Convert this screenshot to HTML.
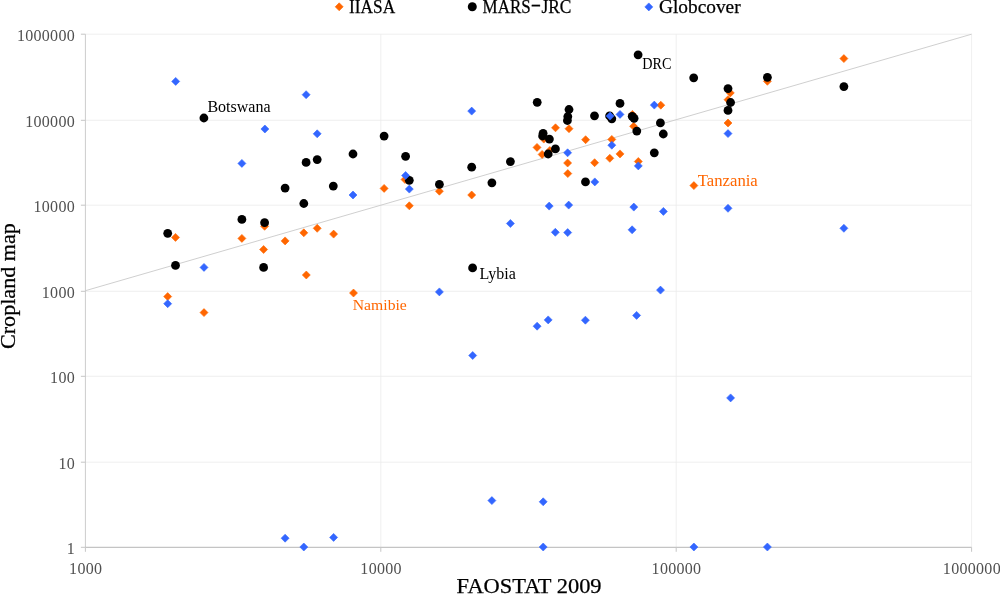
<!DOCTYPE html>
<html lang="en"><head><meta charset="utf-8"><title>Cropland map vs FAOSTAT 2009</title>
<style>html,body{margin:0;padding:0;background:#fff}body{width:1000px;height:594px;overflow:hidden}svg{display:block}
text{font-family:"Liberation Serif","Noto Serif CJK SC",serif}
.tick{font-size:16px;fill:#505050;letter-spacing:0.3px}.lab{font-size:16px}.leg{font-size:19.5px;fill:#000;stroke:#000;stroke-width:0.25px}.ttl{font-size:20.5px;fill:#000;stroke:#000;stroke-width:0.25px}
</style></head><body>
<svg width="1000" height="594" viewBox="0 0 1000 594">
<rect width="1000" height="594" fill="#fff"/>
<g stroke="#ebebeb" stroke-width="0.8" fill="none">
<line x1="85.4" y1="34.2" x2="971.6" y2="34.2"/>
<line x1="85.4" y1="120.3" x2="971.6" y2="120.3"/>
<line x1="85.4" y1="205.2" x2="971.6" y2="205.2"/>
<line x1="85.4" y1="291.3" x2="971.6" y2="291.3"/>
<line x1="85.4" y1="376.3" x2="971.6" y2="376.3"/>
<line x1="85.4" y1="462.2" x2="971.6" y2="462.2"/>
<line x1="380.8" y1="34.2" x2="380.8" y2="547.3"/>
<line x1="676.2" y1="34.2" x2="676.2" y2="547.3"/>
<line x1="971.6" y1="34.2" x2="971.6" y2="547.3"/>
</g>
<line x1="85.4" y1="34.2" x2="85.4" y2="547.3" stroke="#cccccc" stroke-width="1"/>
<line x1="85.4" y1="547.3" x2="971.6" y2="547.3" stroke="#b6b6b6" stroke-width="1"/>
<g stroke="#c6c6c6" stroke-width="1">
<line x1="80.9" y1="34.2" x2="85.4" y2="34.2"/>
<line x1="80.9" y1="120.3" x2="85.4" y2="120.3"/>
<line x1="80.9" y1="205.2" x2="85.4" y2="205.2"/>
<line x1="80.9" y1="291.3" x2="85.4" y2="291.3"/>
<line x1="80.9" y1="376.3" x2="85.4" y2="376.3"/>
<line x1="80.9" y1="462.2" x2="85.4" y2="462.2"/>
<line x1="80.9" y1="547.3" x2="85.4" y2="547.3"/>
<line x1="85.4" y1="547.3" x2="85.4" y2="551.8"/>
<line x1="380.8" y1="547.3" x2="380.8" y2="551.8"/>
<line x1="676.2" y1="547.3" x2="676.2" y2="551.8"/>
<line x1="971.6" y1="547.3" x2="971.6" y2="551.8"/>
</g>
<line x1="85.4" y1="290.7" x2="971.6" y2="34.2" stroke="#c9c9c9" stroke-width="0.9"/>
<g class="tick" text-anchor="end">
<text x="75.0" y="40.8">1000000</text>
<text x="75.0" y="126.9">100000</text>
<text x="75.0" y="211.8">10000</text>
<text x="75.0" y="297.9">1000</text>
<text x="75.0" y="382.9">100</text>
<text x="75.0" y="468.8">10</text>
<text x="75.0" y="553.9">1</text>
</g>
<g class="tick" text-anchor="middle">
<text x="85.7" y="573.5">1000</text>
<text x="381.1" y="573.5">10000</text>
<text x="676.5" y="573.5">100000</text>
<text x="971.9" y="573.5">1000000</text>
</g>
<text class="ttl" x="456.6" y="593" textLength="145" lengthAdjust="spacingAndGlyphs">FAOSTAT 2009</text>
<text class="ttl" transform="translate(15.3 349) rotate(-90)" textLength="125.8" lengthAdjust="spacingAndGlyphs">Cropland map</text>
<g fill="#ff6600" stroke="#ff6600" stroke-width="0.6" stroke-linejoin="round">
<path d="M555.5 123.80L559.50 127.8L555.5 131.80L551.50 127.8Z"/>
<path d="M569.0 124.70L573.00 128.7L569.0 132.70L565.00 128.7Z"/>
<path d="M585.6 135.70L589.60 139.7L585.6 143.70L581.60 139.7Z"/>
<path d="M611.8 135.40L615.80 139.4L611.8 143.40L607.80 139.4Z"/>
<path d="M537.0 143.40L541.00 147.4L537.0 151.40L533.00 147.4Z"/>
<path d="M542.1 150.40L546.10 154.4L542.1 158.40L538.10 154.4Z"/>
<path d="M549.8 146.50L553.80 150.5L549.8 154.50L545.80 150.5Z"/>
<path d="M543.8 135.10L547.80 139.1L543.8 143.10L539.80 139.1Z"/>
<path d="M567.6 159.00L571.60 163.0L567.6 167.00L563.60 163.0Z"/>
<path d="M567.8 169.60L571.80 173.6L567.8 177.60L563.80 173.6Z"/>
<path d="M594.6 158.70L598.60 162.7L594.6 166.70L590.60 162.7Z"/>
<path d="M609.8 154.30L613.80 158.3L609.8 162.30L605.80 158.3Z"/>
<path d="M620.0 149.90L624.00 153.9L620.0 157.90L616.00 153.9Z"/>
<path d="M638.3 157.50L642.30 161.5L638.3 165.50L634.30 161.5Z"/>
<path d="M633.6 122.30L637.60 126.3L633.6 130.30L629.60 126.3Z"/>
<path d="M660.8 101.20L664.80 105.2L660.8 109.20L656.80 105.2Z"/>
<path d="M632.4 110.40L636.40 114.4L632.4 118.40L628.40 114.4Z"/>
<path d="M730.3 88.90L734.30 92.9L730.3 96.90L726.30 92.9Z"/>
<path d="M728.0 95.70L732.00 99.7L728.0 103.70L724.00 99.7Z"/>
<path d="M728.0 119.00L732.00 123.0L728.0 127.00L724.00 123.0Z"/>
<path d="M843.9 54.60L847.90 58.6L843.9 62.60L839.90 58.6Z"/>
<path d="M767.4 77.30L771.40 81.3L767.4 85.30L763.40 81.3Z"/>
<path d="M241.9 234.40L245.90 238.4L241.9 242.40L237.90 238.4Z"/>
<path d="M175.5 233.40L179.50 237.4L175.5 241.40L171.50 237.4Z"/>
<path d="M167.7 292.60L171.70 296.6L167.7 300.60L163.70 296.6Z"/>
<path d="M384.1 184.40L388.10 188.4L384.1 192.40L380.10 188.4Z"/>
<path d="M405.0 175.50L409.00 179.5L405.0 183.50L401.00 179.5Z"/>
<path d="M409.3 201.80L413.30 205.8L409.3 209.80L405.30 205.8Z"/>
<path d="M439.4 187.20L443.40 191.2L439.4 195.20L435.40 191.2Z"/>
<path d="M471.7 191.00L475.70 195.0L471.7 199.00L467.70 195.0Z"/>
<path d="M264.6 222.30L268.60 226.3L264.6 230.30L260.60 226.3Z"/>
<path d="M263.6 245.50L267.60 249.5L263.6 253.50L259.60 249.5Z"/>
<path d="M285.1 236.90L289.10 240.9L285.1 244.90L281.10 240.9Z"/>
<path d="M303.8 228.80L307.80 232.8L303.8 236.80L299.80 232.8Z"/>
<path d="M317.2 224.30L321.20 228.3L317.2 232.30L313.20 228.3Z"/>
<path d="M333.6 230.10L337.60 234.1L333.6 238.10L329.60 234.1Z"/>
<path d="M306.3 271.00L310.30 275.0L306.3 279.00L302.30 275.0Z"/>
<path d="M353.5 289.00L357.50 293.0L353.5 297.00L349.50 293.0Z"/>
<path d="M693.9 181.60L697.90 185.6L693.9 189.60L689.90 185.6Z"/>
<path d="M204.0 308.60L208.00 312.6L204.0 316.60L200.00 312.6Z"/>
</g>
<g fill="#000">
<circle cx="203.9" cy="118.0" r="4.4"/>
<circle cx="384.1" cy="136.1" r="4.4"/>
<circle cx="638.1" cy="54.8" r="4.4"/>
<circle cx="693.7" cy="77.8" r="4.4"/>
<circle cx="728.0" cy="88.6" r="4.4"/>
<circle cx="730.6" cy="102.5" r="4.4"/>
<circle cx="728.0" cy="110.4" r="4.4"/>
<circle cx="537.2" cy="102.3" r="4.4"/>
<circle cx="569.0" cy="109.5" r="4.4"/>
<circle cx="567.8" cy="116.5" r="4.4"/>
<circle cx="567.4" cy="120.5" r="4.4"/>
<circle cx="594.5" cy="115.8" r="4.4"/>
<circle cx="609.6" cy="115.9" r="4.4"/>
<circle cx="611.8" cy="118.8" r="4.4"/>
<circle cx="620.0" cy="103.4" r="4.4"/>
<circle cx="632.2" cy="116.3" r="4.4"/>
<circle cx="634.1" cy="118.3" r="4.4"/>
<circle cx="636.8" cy="131.1" r="4.4"/>
<circle cx="660.4" cy="122.9" r="4.4"/>
<circle cx="663.3" cy="134.0" r="4.4"/>
<circle cx="654.3" cy="152.8" r="4.4"/>
<circle cx="543.1" cy="133.3" r="4.4"/>
<circle cx="542.6" cy="136.0" r="4.4"/>
<circle cx="549.4" cy="139.1" r="4.4"/>
<circle cx="555.4" cy="148.9" r="4.4"/>
<circle cx="548.2" cy="154.0" r="4.4"/>
<circle cx="585.5" cy="181.9" r="4.4"/>
<circle cx="843.9" cy="86.6" r="4.4"/>
<circle cx="767.4" cy="77.3" r="4.4"/>
<circle cx="241.9" cy="219.4" r="4.4"/>
<circle cx="167.7" cy="233.3" r="4.4"/>
<circle cx="175.5" cy="265.4" r="4.4"/>
<circle cx="353.0" cy="154.0" r="4.4"/>
<circle cx="317.2" cy="159.6" r="4.4"/>
<circle cx="306.1" cy="162.4" r="4.4"/>
<circle cx="405.6" cy="156.3" r="4.4"/>
<circle cx="471.7" cy="167.2" r="4.4"/>
<circle cx="285.1" cy="188.1" r="4.4"/>
<circle cx="333.3" cy="186.1" r="4.4"/>
<circle cx="303.8" cy="203.5" r="4.4"/>
<circle cx="409.3" cy="180.3" r="4.4"/>
<circle cx="439.4" cy="184.3" r="4.4"/>
<circle cx="491.9" cy="182.8" r="4.4"/>
<circle cx="264.6" cy="222.7" r="4.4"/>
<circle cx="263.6" cy="267.4" r="4.4"/>
<circle cx="472.6" cy="267.9" r="4.4"/>
<circle cx="510.4" cy="161.6" r="4.4"/>
</g>
<g fill="#3366ff" stroke="#3366ff" stroke-width="0.6" stroke-linejoin="round">
<path d="M175.7 77.40L179.70 81.4L175.7 85.40L171.70 81.4Z"/>
<path d="M306.1 90.70L310.10 94.7L306.1 98.70L302.10 94.7Z"/>
<path d="M264.9 125.00L268.90 129.0L264.9 133.00L260.90 129.0Z"/>
<path d="M317.2 129.80L321.20 133.8L317.2 137.80L313.20 133.8Z"/>
<path d="M471.7 107.10L475.70 111.1L471.7 115.10L467.70 111.1Z"/>
<path d="M728.0 129.60L732.00 133.6L728.0 137.60L724.00 133.6Z"/>
<path d="M654.3 101.10L658.30 105.1L654.3 109.10L650.30 105.1Z"/>
<path d="M620.0 110.40L624.00 114.4L620.0 118.40L616.00 114.4Z"/>
<path d="M610.1 112.10L614.10 116.1L610.1 120.10L606.10 116.1Z"/>
<path d="M611.8 141.20L615.80 145.2L611.8 149.20L607.80 145.2Z"/>
<path d="M567.6 148.80L571.60 152.8L567.6 156.80L563.60 152.8Z"/>
<path d="M638.3 161.90L642.30 165.9L638.3 169.90L634.30 165.9Z"/>
<path d="M594.8 177.90L598.80 181.9L594.8 185.90L590.80 181.9Z"/>
<path d="M241.9 159.40L245.90 163.4L241.9 167.40L237.90 163.4Z"/>
<path d="M204.0 263.40L208.00 267.4L204.0 271.40L200.00 267.4Z"/>
<path d="M353.0 191.00L357.00 195.0L353.0 199.00L349.00 195.0Z"/>
<path d="M405.6 171.50L409.60 175.5L405.6 179.50L401.60 175.5Z"/>
<path d="M409.3 185.10L413.30 189.1L409.3 193.10L405.30 189.1Z"/>
<path d="M439.4 287.90L443.40 291.9L439.4 295.90L435.40 291.9Z"/>
<path d="M549.2 202.10L553.20 206.1L549.2 210.10L545.20 206.1Z"/>
<path d="M568.7 201.10L572.70 205.1L568.7 209.10L564.70 205.1Z"/>
<path d="M633.8 203.10L637.80 207.1L633.8 211.10L629.80 207.1Z"/>
<path d="M663.4 207.40L667.40 211.4L663.4 215.40L659.40 211.4Z"/>
<path d="M728.0 204.30L732.00 208.3L728.0 212.30L724.00 208.3Z"/>
<path d="M510.4 219.50L514.40 223.5L510.4 227.50L506.40 223.5Z"/>
<path d="M555.3 228.30L559.30 232.3L555.3 236.30L551.30 232.3Z"/>
<path d="M567.7 228.60L571.70 232.6L567.7 236.60L563.70 232.6Z"/>
<path d="M632.1 225.80L636.10 229.8L632.1 233.80L628.10 229.8Z"/>
<path d="M660.5 286.10L664.50 290.1L660.5 294.10L656.50 290.1Z"/>
<path d="M843.9 224.30L847.90 228.3L843.9 232.30L839.90 228.3Z"/>
<path d="M167.7 299.70L171.70 303.7L167.7 307.70L163.70 303.7Z"/>
<path d="M472.7 351.50L476.70 355.5L472.7 359.50L468.70 355.5Z"/>
<path d="M537.1 322.20L541.10 326.2L537.1 330.20L533.10 326.2Z"/>
<path d="M548.2 315.90L552.20 319.9L548.2 323.90L544.20 319.9Z"/>
<path d="M585.4 316.20L589.40 320.2L585.4 324.20L581.40 320.2Z"/>
<path d="M636.6 311.40L640.60 315.4L636.6 319.40L632.60 315.4Z"/>
<path d="M730.6 393.90L734.60 397.9L730.6 401.90L726.60 397.9Z"/>
<path d="M285.1 534.20L289.10 538.2L285.1 542.20L281.10 538.2Z"/>
<path d="M303.8 543.00L307.80 547.0L303.8 551.00L299.80 547.0Z"/>
<path d="M333.6 533.40L337.60 537.4L333.6 541.40L329.60 537.4Z"/>
<path d="M491.9 496.60L495.90 500.6L491.9 504.60L487.90 500.6Z"/>
<path d="M543.2 497.80L547.20 501.8L543.2 505.80L539.20 501.8Z"/>
<path d="M543.2 543.00L547.20 547.0L543.2 551.00L539.20 547.0Z"/>
<path d="M693.9 543.00L697.90 547.0L693.9 551.00L689.90 547.0Z"/>
<path d="M767.4 543.00L771.40 547.0L767.4 551.00L763.40 547.0Z"/>
</g>
<text class="lab" x="207.4" y="111.8" fill="#000">Botswana</text>
<text class="lab" x="642.3" y="69.0" fill="#000" style="font-size:15.7px" textLength="29.2" lengthAdjust="spacingAndGlyphs">DRC</text>
<text class="lab" x="479.4" y="278.6" fill="#000">Lybia</text>
<text class="lab" x="697.8" y="186.3" fill="#ff6600" style="font-size:16.6px" textLength="60" lengthAdjust="spacingAndGlyphs">Tanzania</text>
<text class="lab" x="352.8" y="309.5" fill="#ff6600" style="font-size:15.3px" textLength="54" lengthAdjust="spacingAndGlyphs">Namibie</text>
<g fill="#ff6600" stroke="#ff6600" stroke-width="0.6" stroke-linejoin="round"><path d="M339.2 2.80L343.20 6.8L339.2 10.80L335.20 6.8Z"/></g>
<text class="leg" x="349.1" y="12.8" textLength="46.1" lengthAdjust="spacingAndGlyphs">IIASA</text>
<circle cx="472.3" cy="6.7" r="4.5" fill="#000"/>
<text class="leg" y="12.7"><tspan x="482.6" textLength="48" lengthAdjust="spacingAndGlyphs">MARS</tspan><tspan x="530.8" dy="-3.2" textLength="10.3" lengthAdjust="spacingAndGlyphs">-</tspan><tspan x="541.4" dy="3.2" textLength="30" lengthAdjust="spacingAndGlyphs">JRC</tspan></text>
<g fill="#3366ff" stroke="#3366ff" stroke-width="0.6" stroke-linejoin="round"><path d="M648.8 2.90L652.80 6.9L648.8 10.90L644.80 6.9Z"/></g>
<text class="leg" x="659" y="12.7" textLength="81.6" lengthAdjust="spacingAndGlyphs">Globcover</text>
</svg></body></html>
